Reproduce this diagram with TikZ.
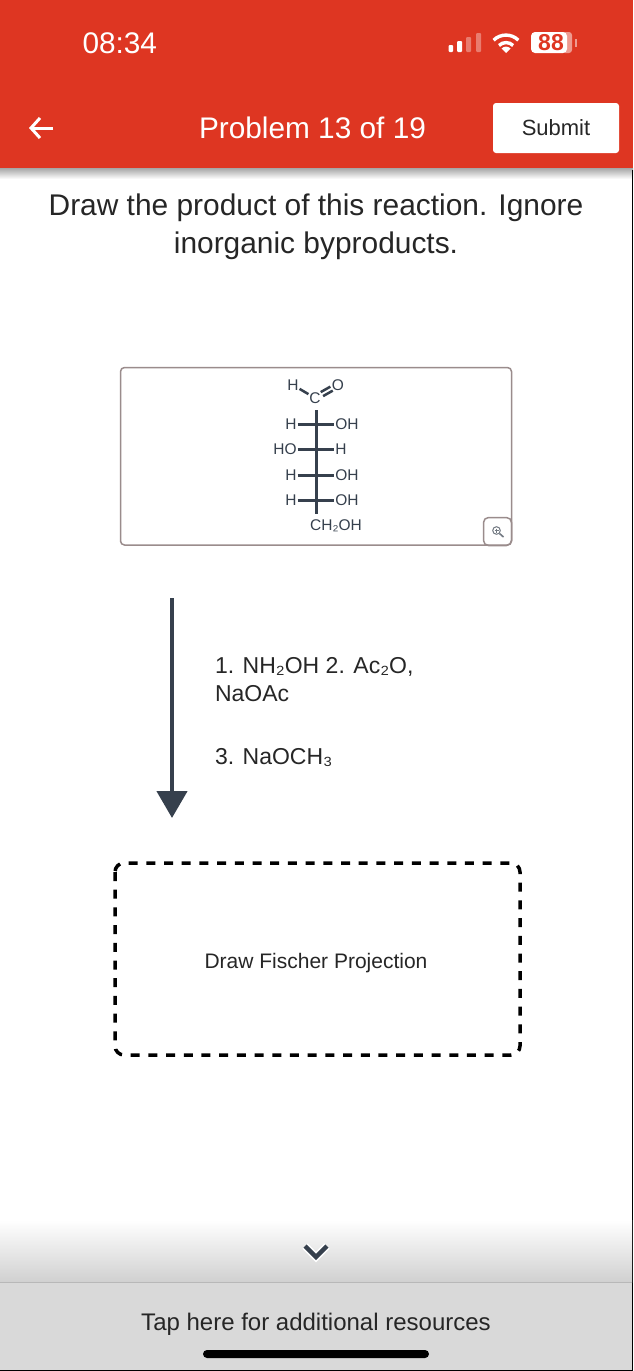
\documentclass[tikz,border=0pt]{standalone}
\usepackage{fontspec}
\setmainfont{Liberation Sans}
\usetikzlibrary{
    arrows.meta,
    calc,
    positioning,
    shadings
}
\definecolor{header}{HTML}{DE3622}
\definecolor{slate}{HTML}{36404D}
\definecolor{frame}{HTML}{9A8C8C}
\definecolor{band}{HTML}{D9D9D9}
\tikzset{
    every picture/.style = {
        > = Stealth,
        x = 1pt,
        y = -1pt
    },
    every node/.style = {
        inner sep = 0pt,
        outer sep = 0pt,
        minimum size = 0pt,
        align = center
    },
    atom/.style = {
        text = slate,
        font = \fontsize{15.5}{15.5}\selectfont,
        inner sep = 1pt
    },
    bond/.style = {
        draw = slate,
        line width = 3pt
    },
    thinbond/.style = {
        draw = slate,
        line width = 2.5pt
    },
    onred/.style = {
        text = white,
        font = \fontsize{29.8}{30}\selectfont
    },
    dark/.style = {
        text = black!85
    },
    reagent/.style = {
        dark,
        anchor = base west,
        font = \fontsize{23}{23}\selectfont
    },
    signalbar/.style = {
        fill = white,
        rounded corners = 1pt
    }
}
\begin{document}
\begin{tikzpicture}
    \useasboundingbox (0, 0) rectangle (633, 1371);
    \fill[white] (0, 0) rectangle (633, 1371);
    \shade[top color = black!35, bottom color = white] (0, 168) rectangle (633, 179);
    \fill[header] (0, 0) rectangle (633, 168);
    \draw[black, line width = 1pt] (632.5, 170) -- (632.5, 1371);

    \node[onred, anchor = base west] (clock) at (82.5, 53) {08:34};
    \fill[signalbar] (448.5, 45) rectangle (453, 52);
    \fill[signalbar] (457, 41) rectangle (462, 52);
    \fill[signalbar, opacity = .35] (466, 37) rectangle (471, 52);
    \fill[signalbar, opacity = .35] (476, 33) rectangle (481, 52);
    \draw[white, line width = 3.4pt] (493.6, 40.2) arc[start angle = 225, end angle = 315, radius = 17.5];
    \draw[white, line width = 3.4pt] (499, 45.5) arc[start angle = 225, end angle = 315, radius = 10];
    \fill[white] (506, 53) -- (501.5, 48.5) arc[start angle = 225, end angle = 315, radius = 6.4] -- cycle;
    \fill[white, rounded corners = 4pt] (531, 32) rectangle (567, 53);
    \fill[white, opacity = .5, rounded corners = 3pt] (562, 32) rectangle (572, 53);
    \fill[white, opacity = .5] (575, 39) rectangle (577, 47);
    \node[text = header, font = \fontsize{23}{23}\selectfont\bfseries] (battery) at (551, 42.5) {88};

    \coordinate (backtail) at (53, 128);
    \coordinate (backtip) at (29, 128);
    \draw[white, line width = 3pt, -{Straight Barb[length = 9pt, width = 20pt]}] (backtail) -- (backtip);
    \node[onred, anchor = base] (title) at (312.5, 138.5) {Problem 13 of 19};
    \node[fill = white, rounded corners = 3pt, minimum width = 126pt, minimum height = 50pt,
        dark, font = \fontsize{22}{22}\selectfont] (submit) at (556, 128) {Submit};

    \node[dark, font = \fontsize{29.9}{38}\selectfont] (question) at (316, 227)
        {Draw the product of this reaction. Ignore\\inorganic byproducts.};

    \draw[frame, line width = 1.5pt, rounded corners = 4pt] (120.5, 367.5) rectangle (511.5, 545);
    \node[draw = frame, line width = 1.5pt, rounded corners = 5pt, minimum width = 28pt,
        minimum height = 28pt] (zoombtn) at (497.5, 531.5) {};
    \draw[slate!70, line width = 1pt] (496.5, 530.5) circle[radius = 3.8];
    \draw[slate!70, line width = 1.6pt] (499.5, 533.5) -- (503.5, 537);
    \draw[slate!70, line width = .6pt] (494.5, 530.5) -- (498.5, 530.5) (496.5, 528.5) -- (496.5, 532.5);

    \node[atom] (ald) at (293, 385) {H};
    \node[atom] (c1) at (315, 398) {C};
    \node[atom] (oxy) at (338, 385) {O};
    \node[atom] (l1) at (291, 424) {H};
    \node[atom] (r1) at (347, 424) {OH};
    \node[atom] (l2) at (285, 449.5) {HO};
    \node[atom] (r2) at (341, 449.5) {H};
    \node[atom] (l3) at (291, 475) {H};
    \node[atom] (r3) at (347, 475) {OH};
    \node[atom] (l4) at (291, 500) {H};
    \node[atom] (r4) at (347, 500) {OH};
    \node[atom] (c6) at (336, 526) {CH₂OH};
    \coordinate (spinetop) at (316, 410);
    \coordinate (spine) at (316, 514);
    \path[bond] (spinetop) edge (spine);
    \foreach \row in {1, 2, 3, 4} {
        \path[bond] (l\row) edge (r\row);
    }
    \path[thinbond] (ald) edge (c1);
    \path[thinbond] ($(c1)!.3!(oxy) + (-1.2, -2)$) edge ($(c1)!.72!(oxy) + (-1.2, -2)$);
    \path[thinbond] ($(c1)!.3!(oxy) + (1.2, 2)$) edge ($(c1)!.72!(oxy) + (1.2, 2)$);

    \coordinate (arrowtop) at (172, 598);
    \coordinate (arrowtip) at (172, 818);
    \draw[slate, line width = 4.5pt, -{Triangle[length = 27pt, width = 30pt]}] (arrowtop) -- (arrowtip);

    \node[reagent] (step1) at (215, 673) {1. NH₂OH  2. Ac₂O,};
    \node[reagent] (step2) at (215, 701) {NaOAc};
    \node[reagent] (step3) at (215, 764) {3. NaOCH₃};

    \draw[black, line width = 3.5pt, rounded corners = 9pt, dash pattern = on 9pt off 8.7pt]
        (115, 863) rectangle (520, 1055);
    \node[dark, font = \fontsize{21}{21}\selectfont] (answer) at (316, 963) {Draw Fischer Projection};

    \shade[top color = white, bottom color = band!96!black] (0, 1220) rectangle (632, 1282);
    \fill[band] (0, 1283) rectangle (632, 1370);
    \draw[black!15!band, line width = 1pt] (0, 1282.5) -- (632, 1282.5);
    \coordinate (chevl) at (305, 1246);
    \coordinate (chevm) at (316, 1257);
    \coordinate (chevr) at (327, 1246);
    \draw[white, line width = 7.5pt] (chevl) -- (chevm) -- (chevr);
    \draw[slate, line width = 4.5pt] (chevl) -- (chevm) -- (chevr);
    \node[dark, font = \fontsize{24}{24}\selectfont] (resources) at (316, 1324) {Tap here for additional resources};
    \fill[black, rounded corners = 4pt] (203, 1350) rectangle (429, 1358);
    \draw[black, line width = 1pt] (0, 1370.5) -- (633, 1370.5);
\end{tikzpicture}
\end{document}
